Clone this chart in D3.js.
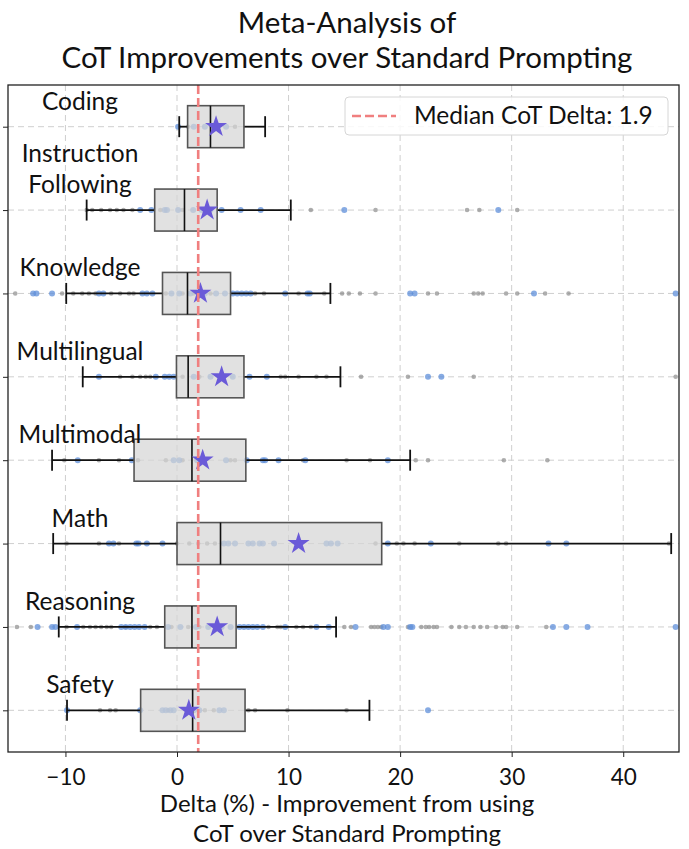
<!DOCTYPE html>
<html><head><meta charset="utf-8">
<script src="https://cdn.jsdelivr.net/npm/d3@7"></script>
<style>body{margin:0;background:#fff}svg{display:block}text{font-family:Lato,"Open Sans",sans-serif;fill:#111}</style>
</head><body>
<svg id="chart" width="689" height="849"></svg>
<script>
const categories = ["Coding","Instruction\nFollowing","Knowledge","Multilingual","Multimodal","Math","Reasoning","Safety"];
const q1          = [0.95, -2.0, -1.3, -0.05, -3.85, 0.0, -1.1, -3.26];
const medians     = [3.0, 0.67, 0.94, 1.0, 1.34, 3.9, 1.34, 1.4];
const q3          = [6.0, 3.6, 4.8, 6.0, 6.17, 18.35, 5.3, 6.1];
const whiskerLow  = [0.2, -8.1, -9.93, -8.45, -11.2, -11.1, -10.6, -9.86];
const whiskerHigh = [7.9, 10.2, 13.75, 14.65, 20.9, 44.3, 14.26, 17.25];
const means       = [3.5, 2.7, 2.1, 4.0, 2.3, 10.9, 3.6, 1.06];
const medianDelta = 1.9;
const xTicks = [-10, 0, 10, 20, 30, 40];
const grayDots = [
  [1.0, 5.2],
  [-8.1,-7.6,-6.8,-6.0,-5.4,-4.8,-4.0,-1.5,0.5,12.0,17.8,26.0,27.1,30.5],
  [-14.5,-10.3,-9.3,-8.5,-7.9,-7.3,-5.9,-5.1,-4.3,-3.9,-1.0,0.5,1.5,3.0,7.0,7.8,10.9,13.2,14.8,15.4,16.4,17.8,22.5,23.3,26.6,27.0,27.4,29.5,30.5,33.0,35.1],
  [-5.1,-4.0,-3.3,-2.8,-2.4,0.5,2.0,9.3,9.7,10.9,12.5,13.4,16.5,20.7,26.6,44.7],
  [-10.1,-7.0,-5.2,-3.5,-1.0,0.5,4.8,5.2,11.3,15.2,17.3,21.4,22.5,29.3,33.2],
  [-9.9,-7.0,-5.2,0.0,1.1,1.9,2.7,3.4,17.8,19.7,20.3,21.3,25.3,28.8,29.5,44.1],
  [-14.35,-13.1,-9.9,-8.4,-7.8,-7.3,-6.8,-6.3,-5.9,-4.6,-2.4,-1.8,-0.5,1.0,2.0,8.2,9.0,9.3,10.7,11.3,12.0,15.0,15.6,17.4,17.7,18.0,18.3,20.7,21.9,22.3,22.6,23.0,23.3,24.6,25.3,25.9,26.6,27.2,27.8,28.6,29.2,29.5,30.5,33.1],
  [-6.9,-6.0,-5.5,-0.8,2.5,3.3,6.4,7.0,9.9,15.2]
];
const blueDots = [
  [0.1, 1.5, 2.5, 3.2, 4.4],
  [-3.3,-2.3,-1.1,-0.9,0.1,1.45,2.2,3.0,4.0,5.7,7.5,15.0,28.8],
  [-12.9,-12.6,-11.2,-7.0,-6.6,-3.1,-2.7,-2.2,-0.5,0.2,1.2,2.5,3.5,4.3,5.0,5.4,5.8,6.2,6.6,9.7,11.7,11.9,20.9,21.3,32.0,44.7],
  [-7.0,-1.9,-1.1,-0.7,-0.3,1.5,3.0,5.0,6.5,8.05,22.5,23.7],
  [-8.9,-4.05,-0.3,0.2,1.8,4.4,6.25,7.7,7.9,9.1,11.5,18.9],
  [-6.1,-5.7,-3.65,-3.45,-2.7,-1.3,4.2,4.6,5.2,6.4,6.8,7.4,7.7,8.7,13.4,13.8,14.4,18.9,22.75,33.3,34.9],
  [-12.5,-11.2,-10.9,-8.96,-5.0,-4.6,-4.2,-3.8,-3.4,-2.9,-0.8,0.3,1.7,2.8,4.0,4.8,5.6,6.0,6.4,6.8,7.2,7.7,9.7,12.5,13.6,16.0,18.5,18.9,20.9,21.1,33.7,34.9,36.8,44.7],
  [-9.86,-3.3,-1.3,-1.0,-0.6,-0.3,1.5,2.0,3.8,4.2,22.5]
];
const titleLines = ["Meta-Analysis of", "CoT Improvements over Standard Prompting"];
const xLabelLines = ["Delta (%) - Improvement from using", "CoT over Standard Prompting"];
const legendLabel = "Median CoT Delta: " + medianDelta;

const svg = d3.select("#chart");
const L = 8, R = 679, T = 85, B = 752;
const x = d3.scaleLinear().domain([-15.15, 45]).range([L, R]);
const y = d3.scalePoint().domain(categories).range([T, B]).padding(0.5);
const boxH = 42, capH = 21;

// grid
const grid = svg.append("g").attr("stroke", "#cfcfcf").attr("stroke-width", 1).attr("stroke-dasharray", "6,4");
grid.selectAll("line.v").data(xTicks).join("line").attr("class","v")
  .attr("x1", d => x(d)).attr("x2", d => x(d)).attr("y1", T).attr("y2", B);
grid.selectAll("line.h").data(categories).join("line").attr("class","h")
  .attr("x1", L).attr("x2", R).attr("y1", d => y(d)).attr("y2", d => y(d));

// dots
const dots = svg.append("g");
categories.forEach((c, i) => {
  dots.selectAll(null).data(grayDots[i]).join("circle")
    .attr("cx", d => x(d)).attr("cy", y(c)).attr("r", 2.3)
    .attr("fill", "#8c8c8c").attr("fill-opacity", 0.7);
  dots.selectAll(null).data(blueDots[i]).join("circle")
    .attr("cx", d => x(d)).attr("cy", y(c)).attr("r", 3)
    .attr("fill", "#5f8fda").attr("fill-opacity", 0.75);
});

// boxes
const boxes = svg.append("g");
categories.forEach((c, i) => {
  const cy = y(c);
  const g = boxes.append("g");
  g.append("line").attr("x1", x(whiskerLow[i])).attr("x2", x(q1[i])).attr("y1", cy).attr("y2", cy)
    .attr("stroke", "#111").attr("stroke-width", 1.8);
  g.append("line").attr("x1", x(q3[i])).attr("x2", x(whiskerHigh[i])).attr("y1", cy).attr("y2", cy)
    .attr("stroke", "#111").attr("stroke-width", 1.8);
  [whiskerLow[i], whiskerHigh[i]].forEach(v => {
    g.append("line").attr("x1", x(v)).attr("x2", x(v)).attr("y1", cy - capH/2).attr("y2", cy + capH/2)
      .attr("stroke", "#111").attr("stroke-width", 1.8);
  });
  g.append("rect").attr("x", x(q1[i])).attr("y", cy - boxH/2)
    .attr("width", x(q3[i]) - x(q1[i])).attr("height", boxH)
    .attr("fill", "#d6d6d6").attr("fill-opacity", 0.72)
    .attr("stroke", "#555").attr("stroke-width", 1.6);
  g.append("line").attr("x1", x(medians[i])).attr("x2", x(medians[i]))
    .attr("y1", cy - boxH/2).attr("y2", cy + boxH/2).attr("stroke", "#111").attr("stroke-width", 1.6);
  g.append("path").attr("d", d3.symbol(d3.symbolStar, 150)())
    .attr("transform", `translate(${x(means[i])},${cy})`).attr("fill", "#6a5ad8");
});

// median CoT line
svg.append("line").attr("x1", x(medianDelta)).attr("x2", x(medianDelta)).attr("y1", T).attr("y2", B)
  .attr("stroke", "#f07f7f").attr("stroke-width", 2.6).attr("stroke-dasharray", "9,4");

// frame
svg.append("rect").attr("x", L).attr("y", T).attr("width", R - L).attr("height", B - T)
  .attr("fill", "none").attr("stroke", "#222").attr("stroke-width", 1.3);

// axes
const xAxis = svg.append("g").attr("transform", `translate(0,${B})`)
  .call(d3.axisBottom(x).tickValues(xTicks).tickSize(5).tickPadding(12).tickFormat(d3.format("d")));
xAxis.select(".domain").remove();
xAxis.selectAll("text").style("font-size", "22.5px").attr("fill", "#111");
xAxis.selectAll("line").attr("stroke", "#222");

const yAxis = svg.append("g").attr("transform", `translate(${L},0)`)
  .call(d3.axisLeft(y).tickSize(5).tickFormat(""));
yAxis.select(".domain").remove();
yAxis.selectAll("line").attr("stroke", "#222");

// category labels
categories.forEach(c => {
  const lines = c.split("\n");
  const t = svg.append("text").attr("text-anchor", "middle").style("font-size", "24.5px");
  lines.forEach((ln, j) => {
    t.append("tspan").attr("x", 80).attr("y", y(c) - 17 - (lines.length - 1 - j) * 31).text(ln);
  });
});

// legend
const lg = svg.append("g");
lg.append("rect").attr("x", 345).attr("y", 97).attr("width", 323).attr("height", 38).attr("rx", 4)
  .attr("fill", "#fff").attr("fill-opacity", 0.85).attr("stroke", "#d6d6d6");
lg.append("line").attr("x1", 352).attr("x2", 396).attr("y1", 116).attr("y2", 116)
  .attr("stroke", "#f07f7f").attr("stroke-width", 2.6).attr("stroke-dasharray", "9,4");
lg.append("text").attr("x", 414).attr("y", 124).style("font-size", "24.5px").text(legendLabel);

// title
svg.append("g").selectAll("text").data(titleLines).join("text")
  .attr("x", 347).attr("y", (d, i) => 33 + i * 35).attr("text-anchor", "middle")
  .style("font-size", "29.5px").text(d => d);

// x label
svg.append("g").selectAll("text").data(xLabelLines).join("text")
  .attr("x", 347).attr("y", (d, i) => 812 + i * 30).attr("text-anchor", "middle")
  .style("font-size", "24px").text(d => d);
</script>
</body></html>
